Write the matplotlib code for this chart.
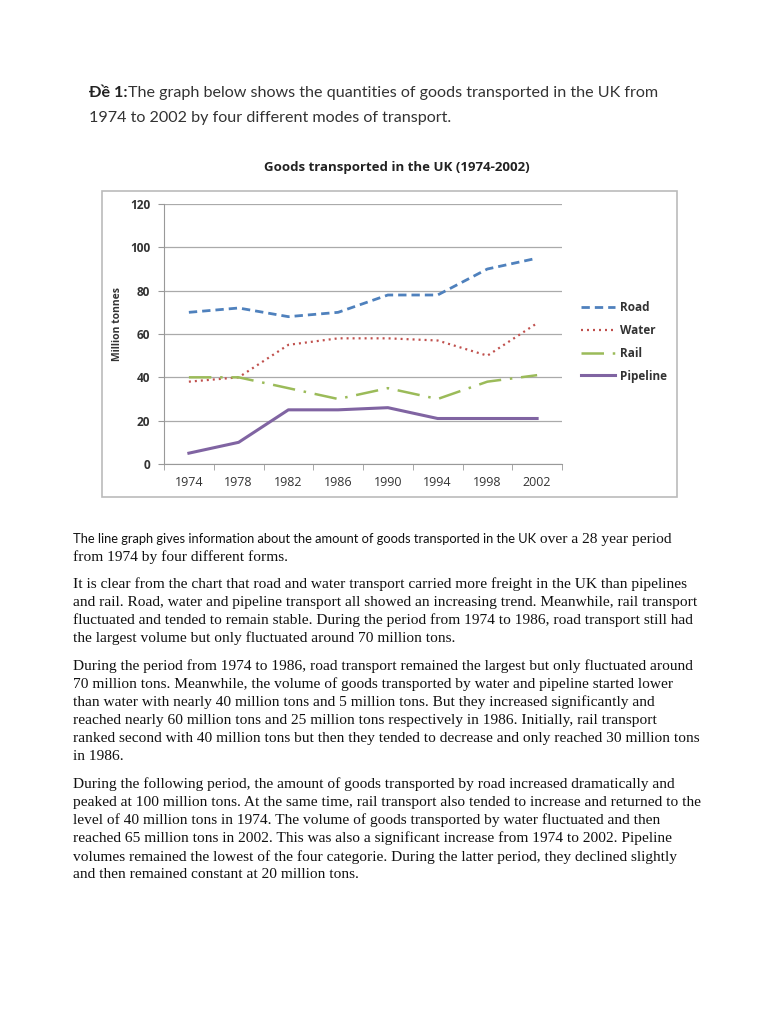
import matplotlib
matplotlib.use("Agg")
import matplotlib.pyplot as plt
from matplotlib.patches import Rectangle

years = ["1974", "1978", "1982", "1986", "1990", "1994", "1998", "2002"]
road = [70, 72, 68, 70, 78, 78, 90, 95]
water = [38, 40, 55, 58, 58, 57, 50, 65]
rail = [40, 40, 35, 30, 35, 30, 38, 41]
pipeline = [5, 10, 25, 25, 26, 21, 21, 21]

W, H = 768, 1024
fig = plt.figure(figsize=(W / 100, H / 100), dpi=100)
fig.patch.set_facecolor("white")


def fx(px):
    return px / W


def fy(py):
    return 1 - py / H


# heading
head_font = "Lato"
head_fs = 11.6
t = fig.text(fx(89), fy(93), "Đề 1:", fontsize=head_fs, fontweight="bold",
             family=head_font, va="center", color="#222222")
fig.canvas.draw()
r = fig.canvas.get_renderer()
bb = t.get_window_extent(r)
fig.text(bb.x1 / W, fy(93),
         "The graph below shows the quantities of goods transported in the UK from",
         fontsize=head_fs, family=head_font, va="center", color="#333333")
fig.text(fx(89), fy(118), "1974 to 2002 by four different modes of transport.",
         fontsize=head_fs, family=head_font, va="center", color="#333333")

# chart frame
fig.patches.append(Rectangle((fx(102), fy(497)), fx(677) - fx(102), fy(191) - fy(497),
                             transform=fig.transFigure, fill=False,
                             edgecolor="#BBBBBB", linewidth=1.2))
fig.text(fx(397), fy(168), "Goods transported in the UK (1974-2002)", ha="center",
         va="center", fontsize=9.5, fontweight="bold", family="Open Sans", color="#222222")

ax = fig.add_axes([fx(164), fy(464), fx(562) - fx(164), fy(204) - fy(464)])
x = list(range(len(years)))
ax.plot(x, road, color="#4F81BD", lw=2.0, dashes=(3, 1.8), label="Road")
ax.plot(x, water, color="#C0504D", lw=1.6, dashes=(0.9, 1.8), label="Water")
ax.plot(x, rail, color="#9BBB59", lw=1.8, dashes=(9, 3.5, 1, 3.5), label="Rail")
ax.plot(x, pipeline, color="#8064A2", lw=2.2, label="Pipeline")

ax.set_xlim(-0.5, len(years) - 0.5)
ax.set_ylim(0, 120)
ax.set_yticks(range(0, 121, 20))
ax.set_xticks(x)
ax.set_xticklabels(years, fontsize=9, family="Open Sans", color="#333333")
ax.set_xticks([i - 0.5 for i in range(len(years) + 1)], minor=True)
ax.tick_params(axis="x", which="major", length=0, pad=9)
ax.tick_params(axis="x", which="minor", length=4, color="#999999")
ax.tick_params(axis="y", length=4, color="#999999", labelsize=8.6, pad=6)
for lab in ax.get_yticklabels():
    lab.set_fontweight("bold")
    lab.set_family("Open Sans")
    lab.set_color("#333333")
ax.grid(axis="y", color="#AAAAAA", lw=0.9)
ax.set_axisbelow(True)
for s in ["top", "right"]:
    ax.spines[s].set_visible(False)
for s in ["left", "bottom"]:
    ax.spines[s].set_color("#999999")
ax.set_ylabel("Million tonnes", fontsize=7.5, fontweight="bold", family="Open Sans",
              color="#333333")
ax.yaxis.set_label_coords(-0.104, 0.538)

leg = ax.legend(loc="center left", bbox_to_anchor=(fx(570), fy(342)),
                bbox_transform=fig.transFigure, frameon=False,
                handlelength=2.9, labelspacing=0.82, handletextpad=0.4,
                prop={"family": "Open Sans", "weight": "bold", "size": 8.5})
for txt in leg.get_texts():
    txt.set_color("#333333")

# body text
serif = "Liberation Serif"
fs = 11.1
left = 73
line1 = fig.text(fx(left), fy(539),
                 "The line graph gives information about the amount of goods transported in the UK",
                 fontsize=9.3, family="Lato", va="center", color="#111111")
fig.canvas.draw()
bb = line1.get_window_extent(fig.canvas.get_renderer())
fig.text(bb.x1 / W, fy(539), " over a 28 year period", fontsize=fs, family=serif,
         va="center", color="#111111")

paragraphs = [
    (557, ["from 1974 by four different forms."]),
    (584, ["It is clear from the chart that road and water transport carried more freight in the UK than pipelines",
           "and rail. Road, water and pipeline transport all showed an increasing trend. Meanwhile, rail transport",
           "fluctuated and tended to remain stable. During the period from 1974 to 1986, road transport still had",
           "the largest volume but only fluctuated around 70 million tons."]),
    (666, ["During the period from 1974 to 1986, road transport remained the largest but only fluctuated around",
           "70 million tons. Meanwhile, the volume of goods transported by water and pipeline started lower",
           "than water with nearly 40 million tons and 5 million tons. But they increased significantly and",
           "reached nearly 60 million tons and 25 million tons respectively in 1986. Initially, rail transport",
           "ranked second with 40 million tons but then they tended to decrease and only reached 30 million tons",
           "in 1986."]),
    (784, ["During the following period, the amount of goods transported by road increased dramatically and",
           "peaked at 100 million tons. At the same time, rail transport also tended to increase and returned to the",
           "level of 40 million tons in 1974. The volume of goods transported by water fluctuated and then",
           "reached 65 million tons in 2002. This was also a significant increase from 1974 to 2002. Pipeline",
           "volumes remained the lowest of the four categorie. During the latter period, they declined slightly",
           "and then remained constant at 20 million tons."]),
]
for y0, lines in paragraphs:
    for i, ln in enumerate(lines):
        fig.text(fx(left), fy(y0 + i * 18.2), ln, fontsize=fs, family=serif,
                 va="center", color="#111111")

fig.savefig("out.png", dpi=100, facecolor="white")
